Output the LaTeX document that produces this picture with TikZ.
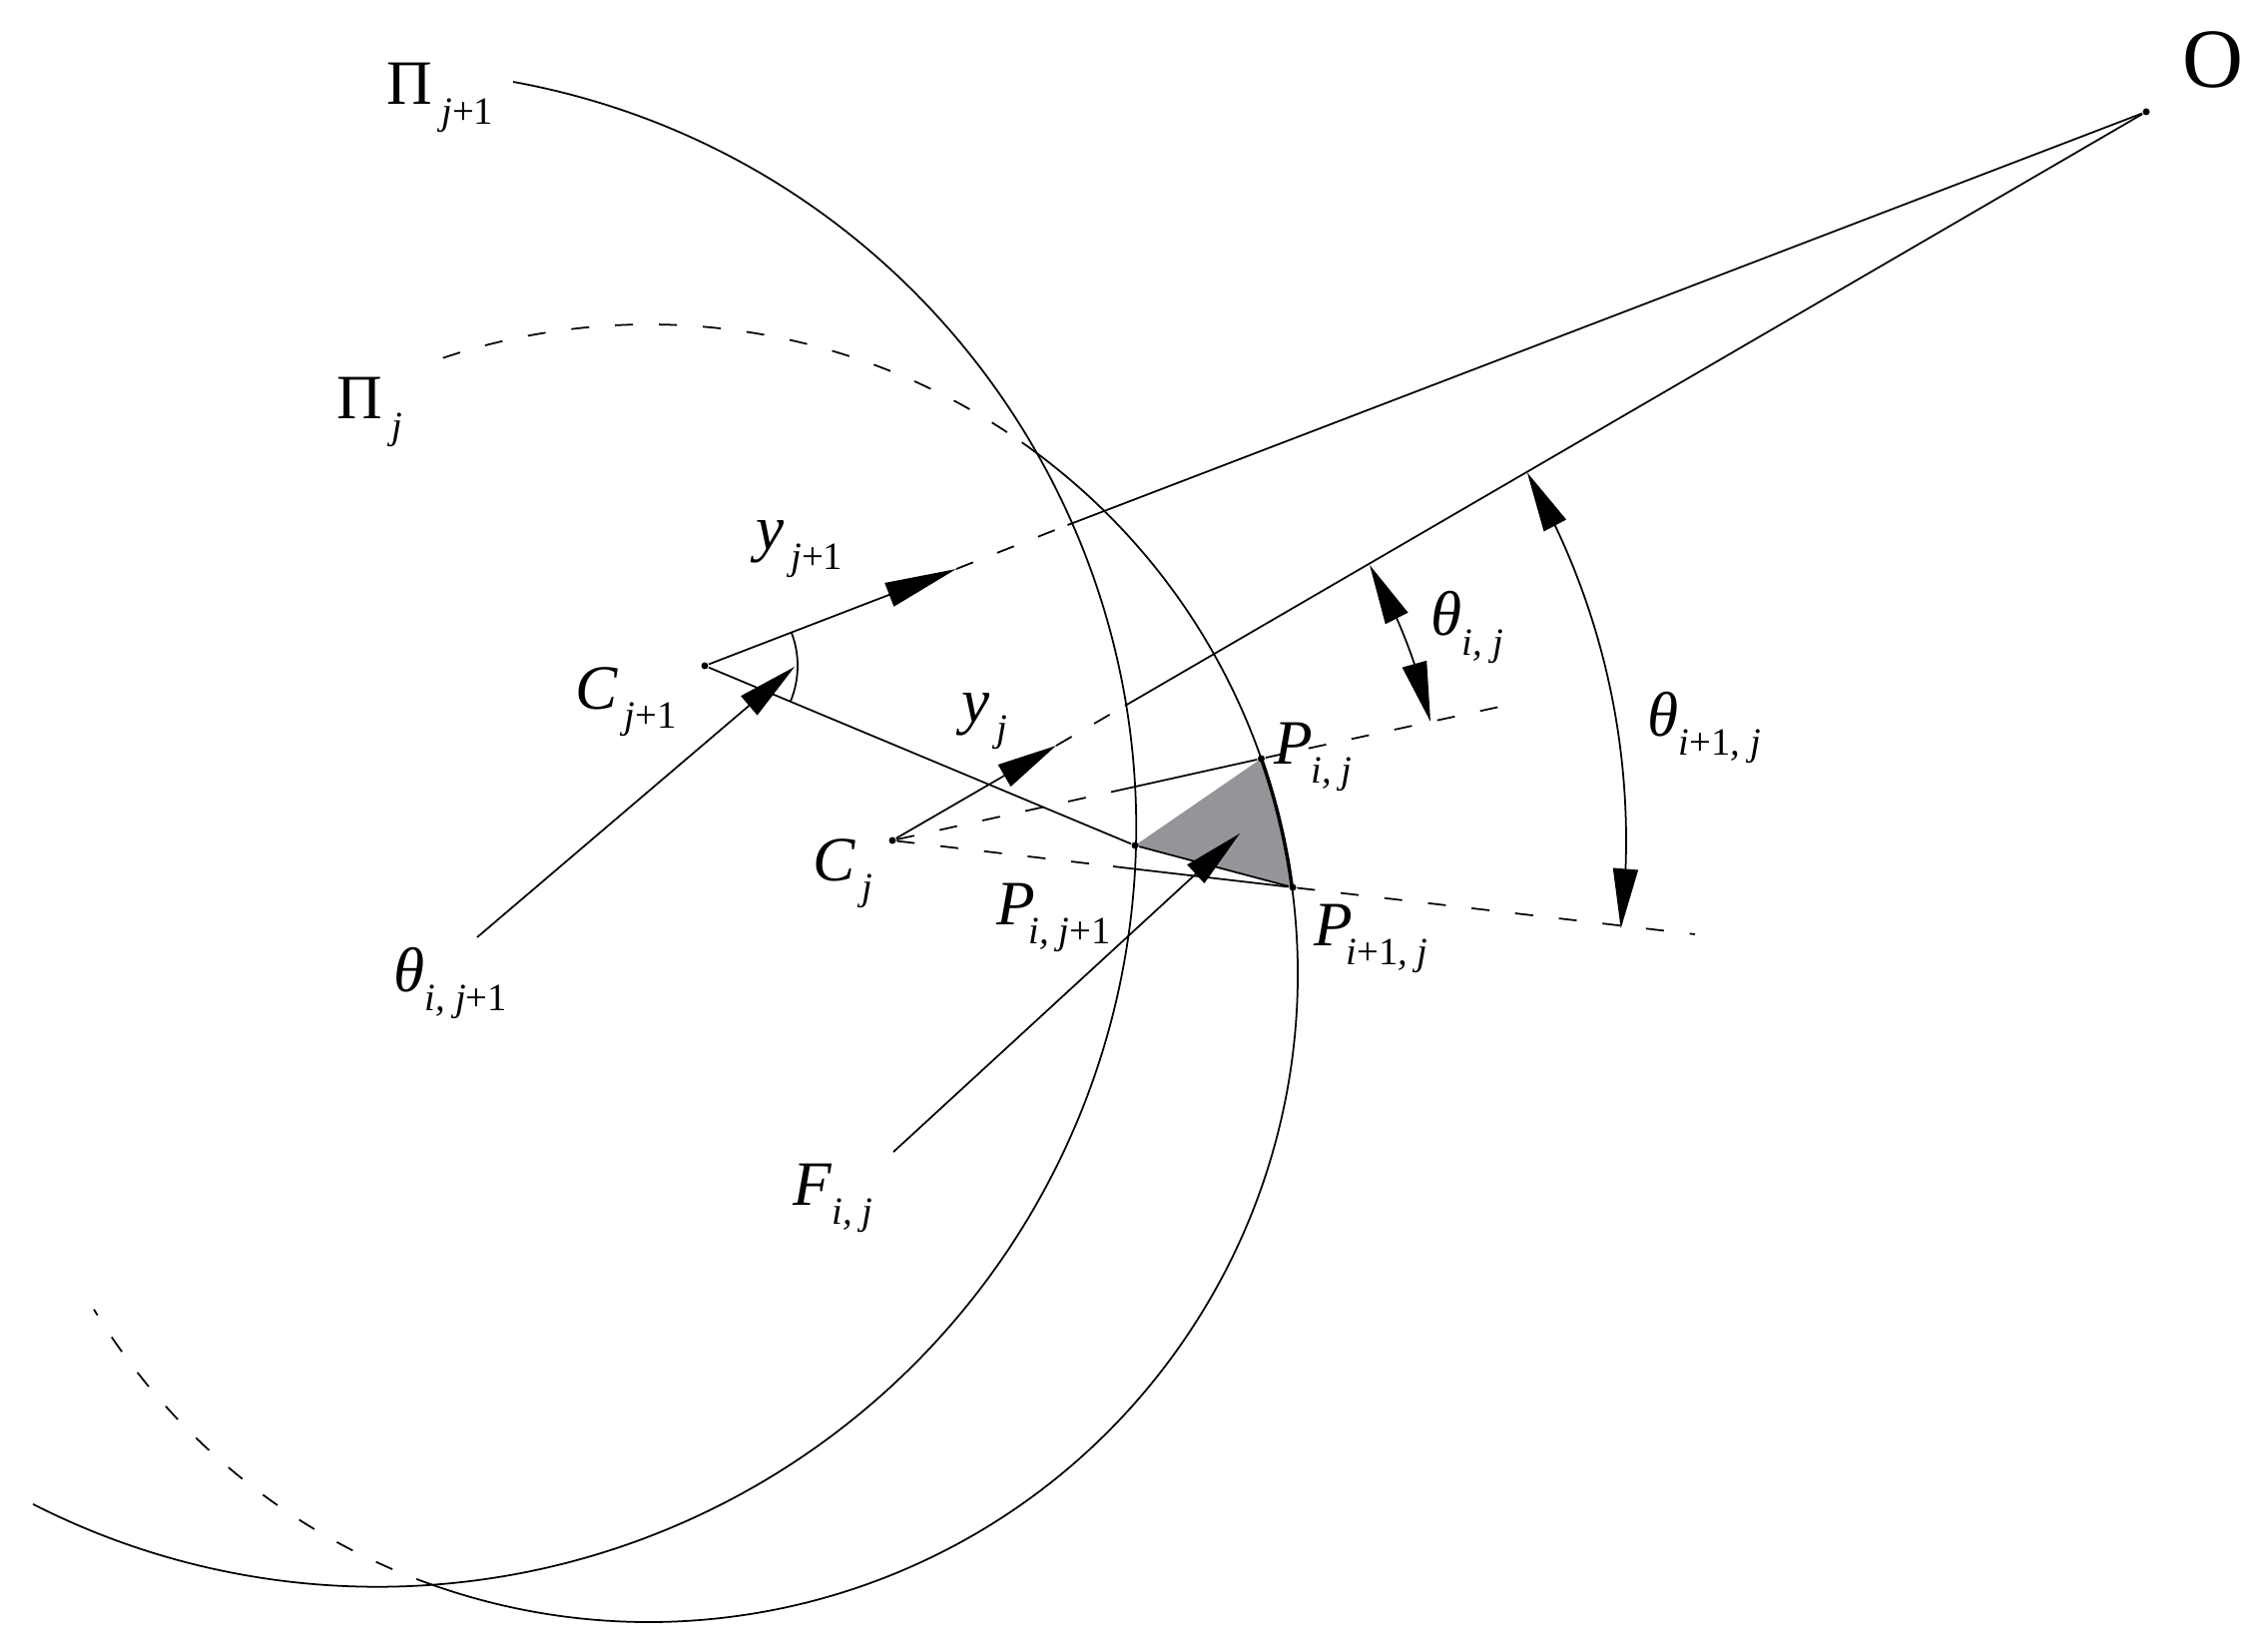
\documentclass[tikz,border=0pt]{standalone}
\usepackage{fontspec}
\setmainfont{Liberation Serif}
\usetikzlibrary{arrows.meta,bending}
\definecolor{wedgegray}{RGB}{148,149,153}
\newcommand{\sublab}[2]{{\itshape #1}\raisebox{-5.5pt}{\fontsize{11}{12}\selectfont\itshape #2}}
\newcommand{\plusone}{{\upshape +1}}
\newcommand{\tuck}{\kern-2pt}
\tikzset{
  every path/.style={line width=0.5pt},
  lab/.style={anchor=base west,inner sep=0pt,font=\fontsize{18}{20}\selectfont},
  dot/.style={circle,fill=black,inner sep=0pt,minimum size=0.07cm},
  dashl/.style={dash pattern=on 0.18cm off 0.26cm},
  arr/.style={-{Triangle[length=0.6cm,width=0.25cm,flex]}},
  darr/.style={{Triangle[length=0.6cm,width=0.25cm,flex]}-{Triangle[length=0.6cm,width=0.25cm,flex]}}
}
\begin{document}
\begin{tikzpicture}
\useasboundingbox (0,0) rectangle (22.72,16.53);
\fill[wedgegray] (11.37,8.06) -- (12.635,8.93) arc (19.3:7.6:6.5) -- cycle;
\draw[line width=1pt] (12.635,8.93) arc (19.3:7.6:6.5);

\draw (21.50,15.41) node[dot] (O) {};
\draw (7.06,9.86) node[dot] (Cjj) {};
\draw (8.94,8.11) node[dot] (Cj) {};
\draw (11.37,8.06) node[dot] (Pijj) {};
\draw (12.635,8.93) node[dot] (Pij) {};
\draw (12.95,7.64) node[dot] (Piij) {};

\coordinate (tipjj) at (9.58,10.83);
\coordinate (endjj) at (10.695,11.27);
\coordinate (tipj) at (10.58,9.06);
\coordinate (endj) at (11.27,9.46);
\coordinate (midij) at (11.15,8.60);
\coordinate (farij) at (15.07,9.46);
\coordinate (midiij) at (11.15,7.85);
\coordinate (fariij) at (16.98,7.17);
\coordinate (thjj) at (4.78,7.14);
\coordinate (thjjtip) at (7.96,9.85);
\coordinate (fij) at (8.95,4.99);
\coordinate (fijtip) at (12.42,8.18);

% arcs
\draw (5.14,15.71) arc (79.7:-117:7.6);
\draw[dashl] (6.50,6.78) ++(108.5:6.5) arc (108.5:54.9:6.5);
\draw (6.50,6.78) ++(54.9:6.5) arc (54.9:-109.4:6.5);
\draw[dashl] (6.50,6.78) ++(-109.4:6.5) arc (-109.4:-148.8:6.5);

% rays
\draw[-{Triangle[length=0.72cm,width=0.25cm]}] (Cjj) -- (tipjj);
\draw[dashl] (tipjj) -- (endjj);
\draw (endjj) -- (O);
\draw[arr] (Cj) -- (tipj);
\draw[dashl] (tipj) -- (endj);
\draw (endj) -- (O);
\draw (Cjj) -- (Pijj) -- (Piij);
\draw[dashl] (Cj) -- (midij);
\draw (midij) -- (Pij);
\draw[dashl] (Pij) -- (farij);
\draw[dashl] (Cj) -- (midiij);
\draw (midiij) -- (Piij);
\draw[dashl] (Piij) -- (fariij);

% angles
\draw[darr] (Cj) ++(30:5.52) arc (30:12.45:5.52);
\draw[darr] (Cj) ++(30.1:7.35) arc (30.1:-6.9:7.35);
\draw (Cjj) ++(21:0.93) arc (21:-22.4:0.93);
\draw[arr] (thjj) -- (thjjtip);
\draw[arr] (fij) -- (fijtip);

\draw (21.86,15.65) node[lab,font=\fontsize{24}{26}\selectfont] (labO) {O};
\draw (3.87,15.48) node[lab] (labPijj) {\sublab{\upshape Π}{\kern2.5pt j\plusone}};
\draw (3.37,12.33) node[lab] (labPj) {\sublab{\upshape Π}{\kern2.5pt j}};
\draw (7.57,11.02) node[lab] (labyjj) {\sublab{y}{\,j\plusone}};
\draw (5.76,9.43) node[lab] (labCjj) {\sublab{C}{\,j\plusone}};
\draw (9.63,9.30) node[lab] (labyj) {\sublab{y}{\,j}};
\draw (8.14,7.71) node[lab] (labCj) {\sublab{C}{\,j}};
\draw (9.98,7.27) node[lab] (labPa) {\sublab{P}{\tuck i, j\plusone}};
\draw (12.76,8.88) node[lab] (labPb) {\sublab{P}{\kern-0.5pt i, j}};
\draw (13.16,7.06) node[lab] (labPc) {\sublab{P}{\tuck i\plusone, j}};
\draw (14.33,10.16) node[lab] (labta) {\sublab{θ}{i, j}};
\draw (16.50,9.16) node[lab] (labtb) {\sublab{θ}{i\plusone, j}};
\draw (3.94,6.60) node[lab] (labtc) {\sublab{θ}{i, j\plusone}};
\draw (7.94,4.46) node[lab] (labF) {\sublab{F}{i, j}};
\end{tikzpicture}
\end{document}
